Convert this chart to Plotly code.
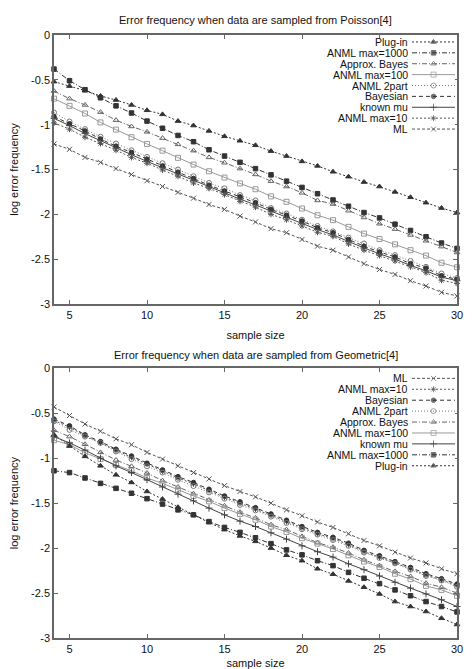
import plotly.graph_objects as go

sample_size = [4, 5, 6, 7, 8, 9, 10, 11, 12, 13, 14, 15, 16, 17, 18, 19, 20,
               21, 22, 23, 24, 25, 26, 27, 28, 29, 30]

# --- data sampled from Poisson[4] ---
poisson_plugin = [-0.52, -0.57, -0.62, -0.68, -0.725, -0.78, -0.84, -0.885, -0.96,
                  -1.01, -1.07, -1.13, -1.18, -1.23, -1.295, -1.35, -1.41, -1.46,
                  -1.525, -1.58, -1.64, -1.69, -1.75, -1.81, -1.87, -1.93, -1.98]
poisson_anml1000 = [-0.38, -0.51, -0.61, -0.70, -0.79, -0.87, -0.96, -1.04, -1.12,
                    -1.19, -1.28, -1.35, -1.42, -1.49, -1.56, -1.63, -1.70, -1.77,
                    -1.84, -1.91, -1.98, -2.04, -2.11, -2.18, -2.25, -2.32, -2.38]
poisson_approx = [-0.625, -0.71, -0.78, -0.86, -0.95, -1.02, -1.08, -1.15, -1.22,
                  -1.29, -1.365, -1.425, -1.49, -1.555, -1.63, -1.69, -1.76, -1.845,
                  -1.885, -1.96, -2.035, -2.105, -2.165, -2.23, -2.295, -2.36, -2.425]
poisson_anml100 = [-0.71, -0.79, -0.875, -0.975, -1.055, -1.14, -1.215, -1.29, -1.37,
                   -1.445, -1.52, -1.59, -1.655, -1.72, -1.80, -1.86, -1.935, -2.01,
                   -2.065, -2.14, -2.215, -2.275, -2.335, -2.40, -2.46, -2.54, -2.59]
poisson_2part = [-0.865, -0.965, -1.05, -1.135, -1.21, -1.285, -1.36, -1.43, -1.50,
                 -1.575, -1.65, -1.71, -1.785, -1.845, -1.93, -1.99, -2.06, -2.13,
                 -2.19, -2.26, -2.325, -2.40, -2.455, -2.52, -2.585, -2.66, -2.71]
poisson_bayes = [-0.91, -0.99, -1.07, -1.16, -1.24, -1.31, -1.385, -1.46, -1.53,
                 -1.60, -1.675, -1.74, -1.805, -1.87, -1.945, -2.01, -2.075, -2.15,
                 -2.205, -2.28, -2.355, -2.42, -2.475, -2.55, -2.60, -2.685, -2.725]
poisson_knownmu = [-0.93, -1.01, -1.10, -1.18, -1.26, -1.335, -1.41, -1.48, -1.55,
                   -1.625, -1.695, -1.76, -1.83, -1.895, -1.965, -2.035, -2.10, -2.17,
                   -2.23, -2.305, -2.375, -2.44, -2.50, -2.57, -2.63, -2.70, -2.74]
poisson_anml10 = [-0.98, -1.05, -1.14, -1.21, -1.285, -1.365, -1.43, -1.505, -1.575,
                  -1.65, -1.71, -1.78, -1.855, -1.92, -2.00, -2.06, -2.13, -2.20,
                  -2.245, -2.33, -2.40, -2.46, -2.52, -2.585, -2.65, -2.735, -2.77]
poisson_ml = [-1.215, -1.275, -1.365, -1.42, -1.49, -1.555, -1.625, -1.69, -1.755,
              -1.82, -1.89, -1.945, -2.02, -2.085, -2.16, -2.205, -2.28, -2.355,
              -2.40, -2.475, -2.55, -2.615, -2.67, -2.74, -2.80, -2.87, -2.91]

# --- data sampled from Geometric[4] ---
geometric_ml = [-0.43, -0.525, -0.62, -0.70, -0.785, -0.85, -0.935, -1.01, -1.085,
                -1.16, -1.23, -1.305, -1.37, -1.43, -1.50, -1.575, -1.64, -1.71,
                -1.77, -1.84, -1.915, -1.975, -2.045, -2.11, -2.165, -2.23, -2.285]
geometric_anml10 = [-0.58, -0.655, -0.75, -0.83, -0.915, -0.99, -1.065, -1.145, -1.22,
                    -1.285, -1.36, -1.435, -1.50, -1.565, -1.635, -1.705, -1.775, -1.84,
                    -1.895, -1.96, -2.04, -2.10, -2.165, -2.23, -2.30, -2.355, -2.415]
geometric_bayes = [-0.565, -0.64, -0.74, -0.815, -0.90, -0.975, -1.055, -1.13, -1.205,
                   -1.27, -1.345, -1.42, -1.485, -1.55, -1.62, -1.69, -1.76, -1.825,
                   -1.88, -1.945, -2.025, -2.085, -2.15, -2.215, -2.285, -2.34, -2.40]
geometric_2part = [-0.59, -0.685, -0.76, -0.83, -0.925, -1.01, -1.09, -1.16, -1.24,
                   -1.31, -1.38, -1.45, -1.52, -1.58, -1.65, -1.72, -1.79, -1.85,
                   -1.91, -1.975, -2.05, -2.11, -2.17, -2.24, -2.31, -2.36, -2.43]
geometric_approx = [-0.69, -0.76, -0.845, -0.935, -1.02, -1.09, -1.165, -1.25, -1.32,
                    -1.395, -1.465, -1.53, -1.60, -1.665, -1.74, -1.795, -1.87, -1.94,
                    -1.99, -2.055, -2.13, -2.195, -2.26, -2.315, -2.39, -2.435, -2.50]
geometric_anml100 = [-0.80, -0.85, -0.94, -1.01, -1.075, -1.14, -1.22, -1.28, -1.35,
                     -1.42, -1.48, -1.555, -1.62, -1.685, -1.76, -1.82, -1.89, -1.95,
                     -2.01, -2.08, -2.15, -2.21, -2.285, -2.345, -2.42, -2.465, -2.53]
geometric_knownmu = [-0.76, -0.83, -0.91, -1.00, -1.085, -1.16, -1.24, -1.32, -1.40,
                     -1.475, -1.555, -1.63, -1.70, -1.76, -1.83, -1.90, -1.975, -2.04,
                     -2.10, -2.175, -2.24, -2.31, -2.38, -2.445, -2.51, -2.575, -2.65]
geometric_anml1000 = [-1.14, -1.16, -1.22, -1.28, -1.335, -1.39, -1.45, -1.51, -1.575,
                      -1.63, -1.705, -1.77, -1.825, -1.885, -1.95, -2.02, -2.075, -2.14,
                      -2.195, -2.27, -2.335, -2.395, -2.465, -2.53, -2.595, -2.65, -2.71]
geometric_plugin = [-0.74, -0.865, -0.98, -1.085, -1.185, -1.27, -1.37, -1.455, -1.545,
                    -1.63, -1.715, -1.795, -1.865, -1.925, -2.00, -2.08, -2.14, -2.23,
                    -2.29, -2.365, -2.435, -2.51, -2.595, -2.65, -2.705, -2.78, -2.85]

y_ticks = [0, -0.5, -1, -1.5, -2, -2.5, -3]
y_ticktext = ["0", "-0.5", "-1", "-1.5", "-2", "-2.5", "-3"]
x_ticks = [5, 10, 15, 20, 25, 30]

# legend order follows the reference keys
poisson_series = [
    ("Plug-in", poisson_plugin),
    ("ANML max=1000", poisson_anml1000),
    ("Approx. Bayes", poisson_approx),
    ("ANML max=100", poisson_anml100),
    ("ANML 2part", poisson_2part),
    ("Bayesian", poisson_bayes),
    ("known mu", poisson_knownmu),
    ("ANML max=10", poisson_anml10),
    ("ML", poisson_ml),
]
geometric_series = [
    ("ML", geometric_ml),
    ("ANML max=10", geometric_anml10),
    ("Bayesian", geometric_bayes),
    ("ANML 2part", geometric_2part),
    ("Approx. Bayes", geometric_approx),
    ("ANML max=100", geometric_anml100),
    ("known mu", geometric_knownmu),
    ("ANML max=1000", geometric_anml1000),
    ("Plug-in", geometric_plugin),
]

STYLE = {
    "Plug-in": dict(color="#333333", dash="2px,2px", symbol="triangle-up", size=5),
    "ANML max=1000": dict(color="#333333", dash="5px,2px,1px,2px", symbol="square", size=4.5),
    "Approx. Bayes": dict(color="#666666", dash="5px,2px,1px,2px", symbol="triangle-up-open", size=5),
    "ANML max=100": dict(color="#999999", dash="solid", symbol="square-open", size=5),
    "ANML 2part": dict(color="#777777", dash="1px,2px", symbol="circle-open", size=5),
    "Bayesian": dict(color="#333333", dash="4px,3px", symbol="circle", size=4.5),
    "known mu": dict(color="#444444", dash="solid", symbol="cross-thin-open", size=5),
    "ANML max=10": dict(color="#555555", dash="2px,2px", symbol="asterisk-open", size=5),
    "ML": dict(color="#555555", dash="3px,2px", symbol="x-thin-open", size=5),
}

FONT = "Liberation Sans, Arial, Helvetica, sans-serif"
W, H = 474, 669
M = dict(l=54, r=17, t=35, b=31)
plot_h = H - M["t"] - M["b"]


def paper_y(px):
    # pixel row -> paper fraction
    return (H - M["b"] - px) / plot_h


def paper_x(px):
    return (px - M["l"]) / (W - M["l"] - M["r"])


top_domain = [paper_y(304), 1.0]
bot_domain = [0.0, paper_y(368.3)]
key_x_domain = [paper_x(412), paper_x(455)]
top_key_domain = [paper_y(134.5), paper_y(36.5)]
bot_key_domain = [paper_y(471.2), paper_y(372.9)]

fig = go.Figure()
annotations = []

panels = [
    (poisson_series, "x", "y", "x3", "y3"),
    (geometric_series, "x2", "y2", "x4", "y4"),
]
for series, xa, ya, kxa, kya in panels:
    for i, (name, values) in enumerate(series):
        st = STYLE[name]
        line = dict(color=st["color"], width=1, dash=st["dash"])
        marker = dict(symbol=st["symbol"], size=st["size"], color=st["color"],
                      line=dict(color=st["color"], width=1))
        fig.add_trace(go.Scatter(
            x=sample_size, y=values, name=name, mode="lines+markers",
            line=line, marker=marker, xaxis=xa, yaxis=ya,
            cliponaxis=False, showlegend=False,
        ))
        # key sample, gnuplot style: line with point in the middle
        fig.add_trace(go.Scatter(
            x=[0, 0.5, 1], y=[i, i, i], mode="lines+markers", line=line,
            marker=dict(marker, size=[0, st["size"], 0]),
            xaxis=kxa, yaxis=kya, showlegend=False, hoverinfo="skip",
            cliponaxis=False,
        ))
        annotations.append(dict(
            x=0, y=i, xref=kxa, yref=kya, text=name, showarrow=False,
            xanchor="right", yanchor="middle", xshift=-3, borderpad=0,
            font=dict(family=FONT, size=10.5, color="#111111"),
        ))

titles = [
    ("Error frequency when data are sampled from Poisson[4]", top_domain[1], 15),
    ("Error frequency when data are sampled from Geometric[4]", bot_domain[1], 13),
]
for text, y, shift in titles:
    annotations.append(dict(
        x=0.5, y=y, xref="paper", yref="paper", text=text, showarrow=False,
        xanchor="center", yanchor="middle", yshift=shift,
        font=dict(family=FONT, size=11, color="#111111"),
    ))

frame = dict(
    showline=True, linecolor="#666666", linewidth=1.5, mirror="allticks",
    ticks="inside", ticklen=4, tickcolor="#666666", tickwidth=1,
    showgrid=False, zeroline=False, automargin=False,
    tickfont=dict(family=FONT, size=11, color="#111111"),
)
x_common = dict(frame, range=[4, 30], tickvals=x_ticks,
                title=dict(text="sample size", standoff=11,
                           font=dict(family=FONT, size=11, color="#111111")))
y_common = dict(frame, range=[-3, 0], tickvals=y_ticks, ticktext=y_ticktext,
                title=dict(text="log error frequency", standoff=10,
                           font=dict(family=FONT, size=11, color="#111111")))
hidden = dict(visible=False, showgrid=False, zeroline=False, fixedrange=True)

fig.update_layout(
    width=W, height=H, margin=dict(M, autoexpand=False),
    paper_bgcolor="white", plot_bgcolor="white",
    font=dict(family=FONT, size=11, color="#111111"),
    showlegend=False,
    xaxis=dict(x_common, domain=[0, 1], anchor="y"),
    yaxis=dict(y_common, domain=top_domain, anchor="x"),
    xaxis2=dict(x_common, domain=[0, 1], anchor="y2"),
    yaxis2=dict(y_common, domain=bot_domain, anchor="x2"),
    xaxis3=dict(hidden, domain=key_x_domain, range=[0, 1], anchor="y3"),
    yaxis3=dict(hidden, domain=top_key_domain, range=[8.5, -0.5], anchor="x3"),
    xaxis4=dict(hidden, domain=key_x_domain, range=[0, 1], anchor="y4"),
    yaxis4=dict(hidden, domain=bot_key_domain, range=[8.5, -0.5], anchor="x4"),
    annotations=annotations,
)

# drop the default page margin so the figure sits at the window's corner
fig.write_html("out.html", config={"displayModeBar": False},
               post_script="document.body.style.margin='0px';")
